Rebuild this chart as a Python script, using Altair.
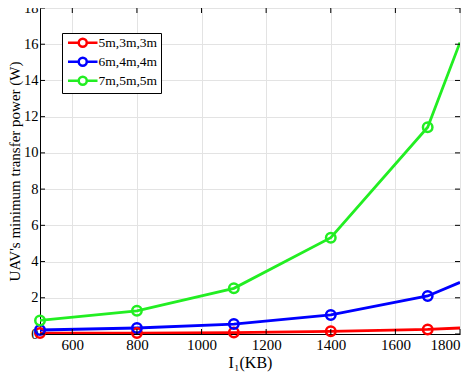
import altair as alt
import pandas as pd

x_vals = [500, 800, 1100, 1400, 1700, 1800]
red = [0.05, 0.05, 0.08, 0.15, 0.25, 0.33]
blue = [0.22, 0.33, 0.55, 1.05, 2.10, 2.85]
green = [0.75, 1.28, 2.52, 5.32, 11.42, 16.1]
series = ["5m,3m,3m", "6m,4m,4m", "7m,5m,5m"]
colors = ["#ff0000", "#0000ff", "#22ee22"]
marker_x = [500, 800, 1100, 1400, 1700]
x_ticks = [600, 800, 1000, 1200, 1400, 1600, 1800]
y_ticks = [0, 2, 4, 6, 8, 10, 12, 14, 16, 18]

rows = []
for name, vals in zip(series, [red, blue, green]):
    for xv, yv in zip(x_vals, vals):
        rows.append({"x": xv, "y": yv, "s": name, "m": xv in marker_x})
df = pd.DataFrame(rows)

font = "Liberation Serif"
xs = alt.Scale(domain=[500, 1800], nice=False)
ys = alt.Scale(domain=[0, 18], nice=False)
cs = alt.Scale(domain=series, range=colors)

legend_sym = "M-3.3,0H-0.9M0.9,0H3.3M0.9,0A0.9,0.9,0,1,1,-0.9,0A0.9,0.9,0,1,1,0.9,0"

common = dict(labelFont=font, titleFont=font,
              titleFontWeight="normal", labelColor="black", titleColor="black",
              domainColor="black", grid=True, gridColor="#e3e3e3", tickSize=0,
              format="d", labelOverlap=False)
xa = alt.Axis(values=x_ticks, title="I\u2081(KB)", labelPadding=3, titlePadding=2,
              labelFontSize=15, titleFontSize=16, **common)
ya = alt.Axis(values=y_ticks, title="UAV's minimum transfer power (W)", labelPadding=2,
              titlePadding=1, labelFontSize=14.5, titleFontSize=15, **common)

base = alt.Chart(df)
lines = base.mark_line(strokeWidth=2.8, clip=True).encode(
    x=alt.X("x:Q", scale=xs, axis=xa), y=alt.Y("y:Q", scale=ys, axis=ya),
    color=alt.Color("s:N", scale=cs, title=None,
                    legend=alt.Legend(orient="none", legendX=22, legendY=25,
                                      symbolType=legend_sym, symbolSize=80,
                                      symbolStrokeWidth=2.5, symbolFillColor="transparent",
                                      symbolOffset=11, labelOffset=9,
                                      strokeColor="black", fillColor="white", padding=3,
                                      rowPadding=0, labelFont=font,
                                      labelFontSize=13.5, labelColor="black")),
)
points = base.transform_filter("datum.m").mark_point(size=90, strokeWidth=2.5, filled=False, opacity=1).encode(
    x=alt.X("x:Q", scale=xs, axis=xa), y=alt.Y("y:Q", scale=ys, axis=ya),
    color=alt.Color("s:N", scale=cs, legend=None),
)

tx = pd.DataFrame({"x": x_ticks})
ty = pd.DataFrame({"y": y_ticks})
tick_b = alt.Chart(tx).mark_rule(color="black", strokeWidth=1).encode(
    x=alt.X("x:Q", scale=xs, axis=xa), y=alt.value(326), y2=alt.value(321))
tick_t = alt.Chart(tx).mark_rule(color="black", strokeWidth=1).encode(
    x=alt.X("x:Q", scale=xs, axis=xa), y=alt.value(0), y2=alt.value(5))
tick_l = alt.Chart(ty).mark_rule(color="black", strokeWidth=1).encode(
    y=alt.Y("y:Q", scale=ys, axis=ya), x=alt.value(0), x2=alt.value(5))
tick_r = alt.Chart(ty).mark_rule(color="black", strokeWidth=1).encode(
    y=alt.Y("y:Q", scale=ys, axis=ya), x=alt.value(420), x2=alt.value(415))

chart = alt.layer(lines, points, tick_b, tick_t, tick_l, tick_r).properties(
    width=420, height=326,
    autosize=alt.AutoSizeParams(type="none"),
    padding={"left": 32, "top": 0, "right": 6, "bottom": 40},
).configure_view(stroke="black", strokeWidth=1.2).configure(
    background="white", font=font
)

chart.save("out.html", embed_options={"renderer": "svg", "actions": False})
